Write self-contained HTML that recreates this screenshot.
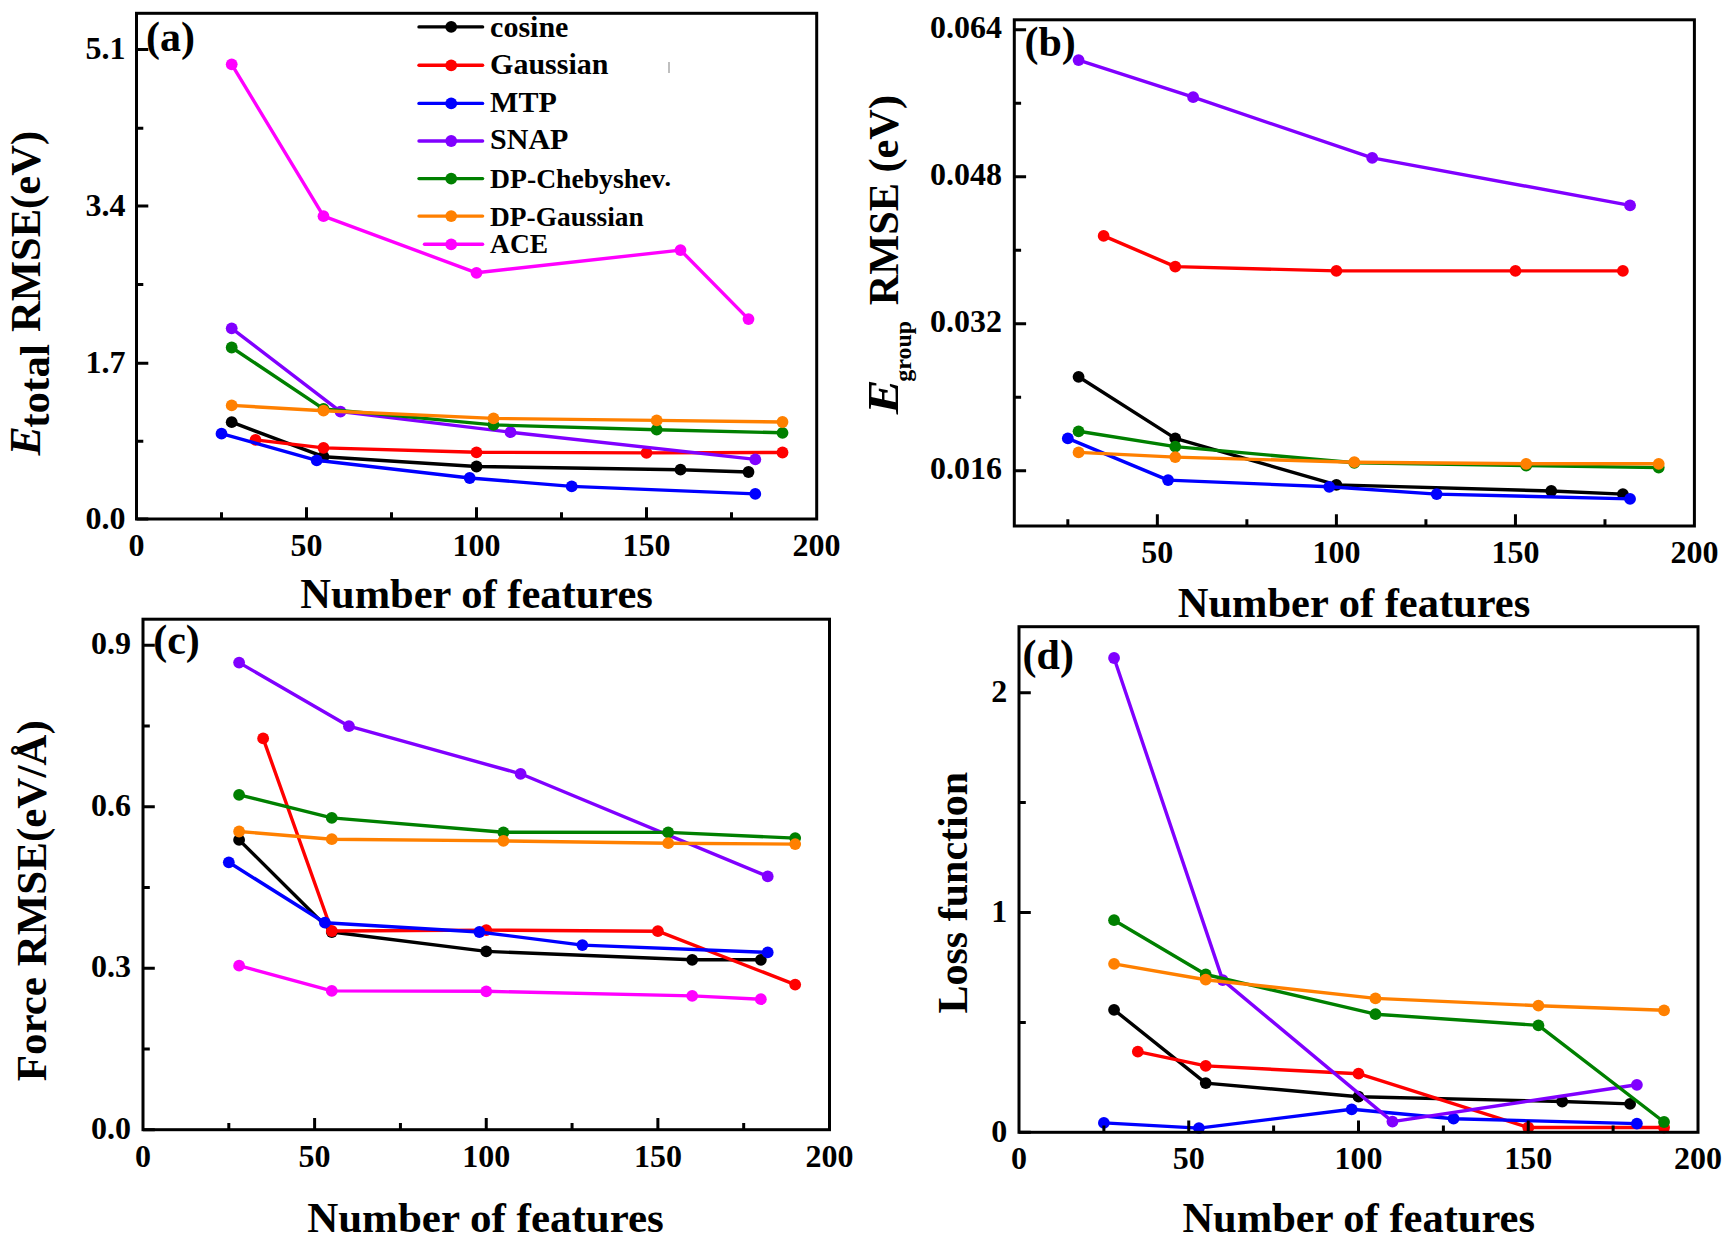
<!DOCTYPE html><html><head><meta charset="utf-8"><title>Figure</title><style>
html,body{margin:0;padding:0;background:#fff;width:1725px;height:1242px;overflow:hidden}
svg{display:block}
text{font-family:"Liberation Serif","Times New Roman",serif;font-weight:bold;fill:#000}
.tl{font-size:32px}.ttl{font-size:42.5px}.pl{font-size:42px}
</style></head><body>
<svg width="1725" height="1242" viewBox="0 0 1725 1242">
<rect width="1725" height="1242" fill="#fff"/>
<polyline points="231.7,422.2 323.5,456.7 476.5,466.5 680.5,469.7 748.5,472" fill="none" stroke="#000000" stroke-width="3.4" stroke-linejoin="round"/>
<circle cx="231.7" cy="422.2" r="5.9" fill="#000000"/>
<circle cx="323.5" cy="456.7" r="5.9" fill="#000000"/>
<circle cx="476.5" cy="466.5" r="5.9" fill="#000000"/>
<circle cx="680.5" cy="469.7" r="5.9" fill="#000000"/>
<circle cx="748.5" cy="472" r="5.9" fill="#000000"/>
<polyline points="255.5,439.9 323.5,447.9 476.5,452.3 646.5,452.9 782.5,452.5" fill="none" stroke="#ff0000" stroke-width="3.4" stroke-linejoin="round"/>
<circle cx="255.5" cy="439.9" r="5.9" fill="#ff0000"/>
<circle cx="323.5" cy="447.9" r="5.9" fill="#ff0000"/>
<circle cx="476.5" cy="452.3" r="5.9" fill="#ff0000"/>
<circle cx="646.5" cy="452.9" r="5.9" fill="#ff0000"/>
<circle cx="782.5" cy="452.5" r="5.9" fill="#ff0000"/>
<polyline points="221.5,433.7 316.7,460.3 469.7,478 571.7,486.4 755.3,493.9" fill="none" stroke="#0000ff" stroke-width="3.4" stroke-linejoin="round"/>
<circle cx="221.5" cy="433.7" r="5.9" fill="#0000ff"/>
<circle cx="316.7" cy="460.3" r="5.9" fill="#0000ff"/>
<circle cx="469.7" cy="478" r="5.9" fill="#0000ff"/>
<circle cx="571.7" cy="486.4" r="5.9" fill="#0000ff"/>
<circle cx="755.3" cy="493.9" r="5.9" fill="#0000ff"/>
<polyline points="231.7,328.3 340.5,411.6 510.5,432.2 755.3,459.4" fill="none" stroke="#8000ff" stroke-width="3.4" stroke-linejoin="round"/>
<circle cx="231.7" cy="328.3" r="5.9" fill="#8000ff"/>
<circle cx="340.5" cy="411.6" r="5.9" fill="#8000ff"/>
<circle cx="510.5" cy="432.2" r="5.9" fill="#8000ff"/>
<circle cx="755.3" cy="459.4" r="5.9" fill="#8000ff"/>
<polyline points="231.7,347.5 323.5,408.9 493.5,424.9 656.7,429.7 782.5,432.8" fill="none" stroke="#008000" stroke-width="3.4" stroke-linejoin="round"/>
<circle cx="231.7" cy="347.5" r="5.9" fill="#008000"/>
<circle cx="323.5" cy="408.9" r="5.9" fill="#008000"/>
<circle cx="493.5" cy="424.9" r="5.9" fill="#008000"/>
<circle cx="656.7" cy="429.7" r="5.9" fill="#008000"/>
<circle cx="782.5" cy="432.8" r="5.9" fill="#008000"/>
<polyline points="231.7,405.4 323.5,410.7 493.5,418.4 656.7,420.4 782.5,422" fill="none" stroke="#ff8000" stroke-width="3.4" stroke-linejoin="round"/>
<circle cx="231.7" cy="405.4" r="5.9" fill="#ff8000"/>
<circle cx="323.5" cy="410.7" r="5.9" fill="#ff8000"/>
<circle cx="493.5" cy="418.4" r="5.9" fill="#ff8000"/>
<circle cx="656.7" cy="420.4" r="5.9" fill="#ff8000"/>
<circle cx="782.5" cy="422" r="5.9" fill="#ff8000"/>
<polyline points="231.7,64.3 323.5,216.2 476.5,272.8 680.5,250.1 748.5,319.1" fill="none" stroke="#ff00ff" stroke-width="3.4" stroke-linejoin="round"/>
<circle cx="231.7" cy="64.3" r="5.9" fill="#ff00ff"/>
<circle cx="323.5" cy="216.2" r="5.9" fill="#ff00ff"/>
<circle cx="476.5" cy="272.8" r="5.9" fill="#ff00ff"/>
<circle cx="680.5" cy="250.1" r="5.9" fill="#ff00ff"/>
<circle cx="748.5" cy="319.1" r="5.9" fill="#ff00ff"/>
<rect x="136.5" y="13.3" width="680.2" height="505.7" fill="none" stroke="#000" stroke-width="3"/>
<path d="M306.5 519v-11.8M476.5 519v-11.8M646.5 519v-11.8M221.5 519v-6.8M391.5 519v-6.8M561.5 519v-6.8M731.5 519v-6.8M136.5 519h11.8M136.5 363.2h11.8M136.5 205.9h11.8M136.5 49.6h11.8M136.5 441.2h6.8M136.5 284.4h6.8M136.5 128.2h6.8" stroke="#000" stroke-width="3" fill="none"/>
<text class="tl" x="136.5" y="556" text-anchor="middle">0</text>
<text class="tl" x="306.5" y="556" text-anchor="middle">50</text>
<text class="tl" x="476.5" y="556" text-anchor="middle">100</text>
<text class="tl" x="646.5" y="556" text-anchor="middle">150</text>
<text class="tl" x="816.5" y="556" text-anchor="middle">200</text>
<text class="tl" x="125.5" y="528.7" text-anchor="end">0.0</text>
<text class="tl" x="125.5" y="372.9" text-anchor="end">1.7</text>
<text class="tl" x="125.5" y="215.6" text-anchor="end">3.4</text>
<text class="tl" x="125.5" y="59.3" text-anchor="end">5.1</text>
<text class="pl" x="146" y="50.7">(a)</text>
<text class="ttl" x="476.6" y="608.1" text-anchor="middle">Number of features</text>
<text transform="translate(40,455.6) rotate(-90)" style="font-size:42.6px"><tspan style="font-style:italic;font-size:44px">E</tspan><tspan dy="8.5" dx="-1.5" style="font-size:43px">total</tspan><tspan dy="-8.5" dx="1.5"> RMSE(eV)</tspan></text>
<path d="M419 26.9H482.6" stroke="#000000" stroke-width="3.4" stroke-linecap="round"/>
<circle cx="451.2" cy="26.9" r="5.9" fill="#000000"/>
<text x="490.1" y="36.6" style="font-size:30px">cosine</text>
<path d="M419 65.3H482.6" stroke="#ff0000" stroke-width="3.4" stroke-linecap="round"/>
<circle cx="451.2" cy="65.3" r="5.9" fill="#ff0000"/>
<text x="490.1" y="73.9" style="font-size:30px">Gaussian</text>
<path d="M419 103.4H482.6" stroke="#0000ff" stroke-width="3.4" stroke-linecap="round"/>
<circle cx="451.2" cy="103.4" r="5.9" fill="#0000ff"/>
<text x="490.1" y="111.5" style="font-size:30px">MTP</text>
<path d="M419 141H482.6" stroke="#8000ff" stroke-width="3.4" stroke-linecap="round"/>
<circle cx="451.2" cy="141" r="5.9" fill="#8000ff"/>
<text x="490.1" y="148.9" style="font-size:30px">SNAP</text>
<path d="M419 178.6H482.6" stroke="#008000" stroke-width="3.4" stroke-linecap="round"/>
<circle cx="451.2" cy="178.6" r="5.9" fill="#008000"/>
<text x="490.1" y="188" style="font-size:28.3px" textLength="175" lengthAdjust="spacingAndGlyphs">DP-Chebyshev</text>
<path d="M419 216.1H482.6" stroke="#ff8000" stroke-width="3.4" stroke-linecap="round"/>
<circle cx="451.2" cy="216.1" r="5.9" fill="#ff8000"/>
<text x="490.1" y="226" style="font-size:27.5px" textLength="153.6" lengthAdjust="spacingAndGlyphs">DP-Gaussian</text>
<path d="M424.5 244.3H482.6" stroke="#ff00ff" stroke-width="3.4" stroke-linecap="round"/>
<circle cx="451.2" cy="244.3" r="5.9" fill="#ff00ff"/>
<text x="490.1" y="252.7" style="font-size:27.5px" textLength="58" lengthAdjust="spacingAndGlyphs">ACE</text>
<text x="664.6" y="186" style="font-size:26px">.</text>
<path d="M669 62v11" stroke="#aaa" stroke-width="1.5"/>
<polyline points="1078.57,376.8 1175.25,438.4 1336.4,484.9 1551.26,491 1622.88,494.1" fill="none" stroke="#000000" stroke-width="3.4" stroke-linejoin="round"/>
<circle cx="1078.57" cy="376.8" r="5.9" fill="#000000"/>
<circle cx="1175.25" cy="438.4" r="5.9" fill="#000000"/>
<circle cx="1336.4" cy="484.9" r="5.9" fill="#000000"/>
<circle cx="1551.26" cy="491" r="5.9" fill="#000000"/>
<circle cx="1622.88" cy="494.1" r="5.9" fill="#000000"/>
<polyline points="1103.63,235.9 1175.25,266.6 1336.4,270.9 1515.45,270.9 1622.88,270.9" fill="none" stroke="#ff0000" stroke-width="3.4" stroke-linejoin="round"/>
<circle cx="1103.63" cy="235.9" r="5.9" fill="#ff0000"/>
<circle cx="1175.25" cy="266.6" r="5.9" fill="#ff0000"/>
<circle cx="1336.4" cy="270.9" r="5.9" fill="#ff0000"/>
<circle cx="1515.45" cy="270.9" r="5.9" fill="#ff0000"/>
<circle cx="1622.88" cy="270.9" r="5.9" fill="#ff0000"/>
<polyline points="1067.83,438.4 1168.09,480.1 1329.24,486.8 1436.67,494.1 1630.04,498.9" fill="none" stroke="#0000ff" stroke-width="3.4" stroke-linejoin="round"/>
<circle cx="1067.83" cy="438.4" r="5.9" fill="#0000ff"/>
<circle cx="1168.09" cy="480.1" r="5.9" fill="#0000ff"/>
<circle cx="1329.24" cy="486.8" r="5.9" fill="#0000ff"/>
<circle cx="1436.67" cy="494.1" r="5.9" fill="#0000ff"/>
<circle cx="1630.04" cy="498.9" r="5.9" fill="#0000ff"/>
<polyline points="1078.57,60.1 1193.16,97.2 1372.21,157.9 1630.04,205.3" fill="none" stroke="#8000ff" stroke-width="3.4" stroke-linejoin="round"/>
<circle cx="1078.57" cy="60.1" r="5.9" fill="#8000ff"/>
<circle cx="1193.16" cy="97.2" r="5.9" fill="#8000ff"/>
<circle cx="1372.21" cy="157.9" r="5.9" fill="#8000ff"/>
<circle cx="1630.04" cy="205.3" r="5.9" fill="#8000ff"/>
<polyline points="1078.57,431.3 1175.25,446.6 1354.3,462.8 1526.19,465.5 1658.69,467.6" fill="none" stroke="#008000" stroke-width="3.4" stroke-linejoin="round"/>
<circle cx="1078.57" cy="431.3" r="5.9" fill="#008000"/>
<circle cx="1175.25" cy="446.6" r="5.9" fill="#008000"/>
<circle cx="1354.3" cy="462.8" r="5.9" fill="#008000"/>
<circle cx="1526.19" cy="465.5" r="5.9" fill="#008000"/>
<circle cx="1658.69" cy="467.6" r="5.9" fill="#008000"/>
<polyline points="1078.57,452.4 1175.25,457.1 1354.3,462.2 1526.19,463.8 1658.69,463.8" fill="none" stroke="#ff8000" stroke-width="3.4" stroke-linejoin="round"/>
<circle cx="1078.57" cy="452.4" r="5.9" fill="#ff8000"/>
<circle cx="1175.25" cy="457.1" r="5.9" fill="#ff8000"/>
<circle cx="1354.3" cy="462.2" r="5.9" fill="#ff8000"/>
<circle cx="1526.19" cy="463.8" r="5.9" fill="#ff8000"/>
<circle cx="1658.69" cy="463.8" r="5.9" fill="#ff8000"/>
<rect x="1014.3" y="19.8" width="680.1" height="506.2" fill="none" stroke="#000" stroke-width="3"/>
<path d="M1157.35 526v-11.8M1336.4 526v-11.8M1515.45 526v-11.8M1067.83 526v-6.8M1246.88 526v-6.8M1425.92 526v-6.8M1604.97 526v-6.8M1014.3 470.8h11.8M1014.3 323.8h11.8M1014.3 176.8h11.8M1014.3 29.7h11.8M1014.3 397.3h6.8M1014.3 250.3h6.8M1014.3 103.2h6.8" stroke="#000" stroke-width="3" fill="none"/>
<text class="tl" x="1157.35" y="562.5" text-anchor="middle">50</text>
<text class="tl" x="1336.4" y="562.5" text-anchor="middle">100</text>
<text class="tl" x="1515.45" y="562.5" text-anchor="middle">150</text>
<text class="tl" x="1694.5" y="562.5" text-anchor="middle">200</text>
<text class="tl" x="1002" y="479.2" text-anchor="end">0.016</text>
<text class="tl" x="1002" y="332.2" text-anchor="end">0.032</text>
<text class="tl" x="1002" y="185.2" text-anchor="end">0.048</text>
<text class="tl" x="1002" y="38.1" text-anchor="end">0.064</text>
<text class="pl" x="1024.4" y="56.2">(b)</text>
<text class="ttl" x="1354" y="616.8" text-anchor="middle">Number of features</text>
<text transform="translate(897.5,414.2) rotate(-90)" style="font-size:45px;font-style:italic" textLength="35" lengthAdjust="spacingAndGlyphs">E</text>
<text transform="translate(911,381.8) rotate(-90)" style="font-size:24px">group</text>
<text transform="translate(897.5,305.3) rotate(-90)" style="font-size:42.3px">RMSE (eV)</text>
<polyline points="239.11,839.9 331.79,932 486.25,951.4 692.2,959.8 760.85,959.8" fill="none" stroke="#000000" stroke-width="3.4" stroke-linejoin="round"/>
<circle cx="239.11" cy="839.9" r="5.9" fill="#000000"/>
<circle cx="331.79" cy="932" r="5.9" fill="#000000"/>
<circle cx="486.25" cy="951.4" r="5.9" fill="#000000"/>
<circle cx="692.2" cy="959.8" r="5.9" fill="#000000"/>
<circle cx="760.85" cy="959.8" r="5.9" fill="#000000"/>
<polyline points="263.14,738.4 331.79,931 486.25,930.1 657.88,931.2 795.18,984.6" fill="none" stroke="#ff0000" stroke-width="3.4" stroke-linejoin="round"/>
<circle cx="263.14" cy="738.4" r="5.9" fill="#ff0000"/>
<circle cx="331.79" cy="931" r="5.9" fill="#ff0000"/>
<circle cx="486.25" cy="930.1" r="5.9" fill="#ff0000"/>
<circle cx="657.88" cy="931.2" r="5.9" fill="#ff0000"/>
<circle cx="795.18" cy="984.6" r="5.9" fill="#ff0000"/>
<polyline points="228.81,862.3 324.92,922.7 479.38,932 582.36,945.1 767.72,952.4" fill="none" stroke="#0000ff" stroke-width="3.4" stroke-linejoin="round"/>
<circle cx="228.81" cy="862.3" r="5.9" fill="#0000ff"/>
<circle cx="324.92" cy="922.7" r="5.9" fill="#0000ff"/>
<circle cx="479.38" cy="932" r="5.9" fill="#0000ff"/>
<circle cx="582.36" cy="945.1" r="5.9" fill="#0000ff"/>
<circle cx="767.72" cy="952.4" r="5.9" fill="#0000ff"/>
<polyline points="239.11,662.6 348.95,726.2 520.58,773.8 767.72,876.4" fill="none" stroke="#8000ff" stroke-width="3.4" stroke-linejoin="round"/>
<circle cx="239.11" cy="662.6" r="5.9" fill="#8000ff"/>
<circle cx="348.95" cy="726.2" r="5.9" fill="#8000ff"/>
<circle cx="520.58" cy="773.8" r="5.9" fill="#8000ff"/>
<circle cx="767.72" cy="876.4" r="5.9" fill="#8000ff"/>
<polyline points="239.11,794.9 331.79,817.9 503.41,832.3 668.17,832.4 795.18,838.1" fill="none" stroke="#008000" stroke-width="3.4" stroke-linejoin="round"/>
<circle cx="239.11" cy="794.9" r="5.9" fill="#008000"/>
<circle cx="331.79" cy="817.9" r="5.9" fill="#008000"/>
<circle cx="503.41" cy="832.3" r="5.9" fill="#008000"/>
<circle cx="668.17" cy="832.4" r="5.9" fill="#008000"/>
<circle cx="795.18" cy="838.1" r="5.9" fill="#008000"/>
<polyline points="239.11,831.5 331.79,839.2 503.41,840.9 668.17,843.2 795.18,844.1" fill="none" stroke="#ff8000" stroke-width="3.4" stroke-linejoin="round"/>
<circle cx="239.11" cy="831.5" r="5.9" fill="#ff8000"/>
<circle cx="331.79" cy="839.2" r="5.9" fill="#ff8000"/>
<circle cx="503.41" cy="840.9" r="5.9" fill="#ff8000"/>
<circle cx="668.17" cy="843.2" r="5.9" fill="#ff8000"/>
<circle cx="795.18" cy="844.1" r="5.9" fill="#ff8000"/>
<polyline points="239.11,965.7 331.79,990.9 486.25,991.3 692.2,995.9 760.85,999.2" fill="none" stroke="#ff00ff" stroke-width="3.4" stroke-linejoin="round"/>
<circle cx="239.11" cy="965.7" r="5.9" fill="#ff00ff"/>
<circle cx="331.79" cy="990.9" r="5.9" fill="#ff00ff"/>
<circle cx="486.25" cy="991.3" r="5.9" fill="#ff00ff"/>
<circle cx="692.2" cy="995.9" r="5.9" fill="#ff00ff"/>
<circle cx="760.85" cy="999.2" r="5.9" fill="#ff00ff"/>
<rect x="143" y="619.2" width="686.5" height="510.5" fill="none" stroke="#000" stroke-width="3"/>
<path d="M314.62 1129.7v-11.8M486.25 1129.7v-11.8M657.88 1129.7v-11.8M228.81 1129.7v-6.8M400.44 1129.7v-6.8M572.06 1129.7v-6.8M743.69 1129.7v-6.8M143 1129.7h11.8M143 968.2h11.8M143 806.7h11.8M143 645.2h11.8M143 1049h6.8M143 887.5h6.8M143 726h6.8" stroke="#000" stroke-width="3" fill="none"/>
<text class="tl" x="143" y="1167" text-anchor="middle">0</text>
<text class="tl" x="314.62" y="1167" text-anchor="middle">50</text>
<text class="tl" x="486.25" y="1167" text-anchor="middle">100</text>
<text class="tl" x="657.88" y="1167" text-anchor="middle">150</text>
<text class="tl" x="829.5" y="1167" text-anchor="middle">200</text>
<text class="tl" x="131" y="1138.9" text-anchor="end">0.0</text>
<text class="tl" x="131" y="977.4" text-anchor="end">0.3</text>
<text class="tl" x="131" y="815.9" text-anchor="end">0.6</text>
<text class="tl" x="131" y="654.4" text-anchor="end">0.9</text>
<text class="pl" x="153.2" y="654.2">(c)</text>
<text class="ttl" x="485.5" y="1231.6" text-anchor="middle" style="font-size:43px">Number of features</text>
<text transform="translate(46.2,1081.3) rotate(-90)" style="font-size:43px">Force RMSE(eV/Å)</text>
<polyline points="1114.06,1009.8 1205.72,1083.1 1358.5,1096.7 1562.2,1101.5 1630.1,1103.9" fill="none" stroke="#000000" stroke-width="3.4" stroke-linejoin="round"/>
<circle cx="1114.06" cy="1009.8" r="5.9" fill="#000000"/>
<circle cx="1205.72" cy="1083.1" r="5.9" fill="#000000"/>
<circle cx="1358.5" cy="1096.7" r="5.9" fill="#000000"/>
<circle cx="1562.2" cy="1101.5" r="5.9" fill="#000000"/>
<circle cx="1630.1" cy="1103.9" r="5.9" fill="#000000"/>
<polyline points="1137.83,1051.7 1205.72,1065.9 1358.5,1073.7 1528.25,1127.5 1664.05,1127.5" fill="none" stroke="#ff0000" stroke-width="3.4" stroke-linejoin="round"/>
<circle cx="1137.83" cy="1051.7" r="5.9" fill="#ff0000"/>
<circle cx="1205.72" cy="1065.9" r="5.9" fill="#ff0000"/>
<circle cx="1358.5" cy="1073.7" r="5.9" fill="#ff0000"/>
<circle cx="1528.25" cy="1127.5" r="5.9" fill="#ff0000"/>
<circle cx="1664.05" cy="1127.5" r="5.9" fill="#ff0000"/>
<polyline points="1103.88,1122.9 1198.93,1128.1 1351.71,1109.3 1453.56,1118.7 1636.89,1123.6" fill="none" stroke="#0000ff" stroke-width="3.4" stroke-linejoin="round"/>
<circle cx="1103.88" cy="1122.9" r="5.9" fill="#0000ff"/>
<circle cx="1198.93" cy="1128.1" r="5.9" fill="#0000ff"/>
<circle cx="1351.71" cy="1109.3" r="5.9" fill="#0000ff"/>
<circle cx="1453.56" cy="1118.7" r="5.9" fill="#0000ff"/>
<circle cx="1636.89" cy="1123.6" r="5.9" fill="#0000ff"/>
<polyline points="1114.06,658 1222.7,980.1 1392.45,1121.6 1636.89,1084.8" fill="none" stroke="#8000ff" stroke-width="3.4" stroke-linejoin="round"/>
<circle cx="1114.06" cy="658" r="5.9" fill="#8000ff"/>
<circle cx="1222.7" cy="980.1" r="5.9" fill="#8000ff"/>
<circle cx="1392.45" cy="1121.6" r="5.9" fill="#8000ff"/>
<circle cx="1636.89" cy="1084.8" r="5.9" fill="#8000ff"/>
<polyline points="1114.06,920.2 1205.72,974.5 1375.47,1014.2 1538.43,1025.4 1664.05,1122" fill="none" stroke="#008000" stroke-width="3.4" stroke-linejoin="round"/>
<circle cx="1114.06" cy="920.2" r="5.9" fill="#008000"/>
<circle cx="1205.72" cy="974.5" r="5.9" fill="#008000"/>
<circle cx="1375.47" cy="1014.2" r="5.9" fill="#008000"/>
<circle cx="1538.43" cy="1025.4" r="5.9" fill="#008000"/>
<circle cx="1664.05" cy="1122" r="5.9" fill="#008000"/>
<polyline points="1114.06,963.8 1205.72,979.7 1375.47,998.4 1538.43,1005.7 1664.05,1010.3" fill="none" stroke="#ff8000" stroke-width="3.4" stroke-linejoin="round"/>
<circle cx="1114.06" cy="963.8" r="5.9" fill="#ff8000"/>
<circle cx="1205.72" cy="979.7" r="5.9" fill="#ff8000"/>
<circle cx="1375.47" cy="998.4" r="5.9" fill="#ff8000"/>
<circle cx="1538.43" cy="1005.7" r="5.9" fill="#ff8000"/>
<circle cx="1664.05" cy="1010.3" r="5.9" fill="#ff8000"/>
<rect x="1019" y="626.7" width="679" height="505.6" fill="none" stroke="#000" stroke-width="3"/>
<path d="M1188.75 1132.3v-11.8M1358.5 1132.3v-11.8M1528.25 1132.3v-11.8M1103.88 1132.3v-6.8M1273.62 1132.3v-6.8M1443.38 1132.3v-6.8M1613.12 1132.3v-6.8M1019 1132.3h11.8M1019 912.5h11.8M1019 692.8h11.8M1019 1022.4h6.8M1019 802.6h6.8" stroke="#000" stroke-width="3" fill="none"/>
<text class="tl" x="1019" y="1169" text-anchor="middle">0</text>
<text class="tl" x="1188.75" y="1169" text-anchor="middle">50</text>
<text class="tl" x="1358.5" y="1169" text-anchor="middle">100</text>
<text class="tl" x="1528.25" y="1169" text-anchor="middle">150</text>
<text class="tl" x="1698" y="1169" text-anchor="middle">200</text>
<text class="tl" x="1007.2" y="1141.5" text-anchor="end">0</text>
<text class="tl" x="1007.2" y="921.7" text-anchor="end">1</text>
<text class="tl" x="1007.2" y="702" text-anchor="end">2</text>
<text class="pl" x="1022.6" y="668.6">(d)</text>
<text class="ttl" x="1358.7" y="1231.6" text-anchor="middle">Number of features</text>
<text transform="translate(967.3,1013.5) rotate(-90)" style="font-size:42px">Loss function</text>
</svg></body></html>
